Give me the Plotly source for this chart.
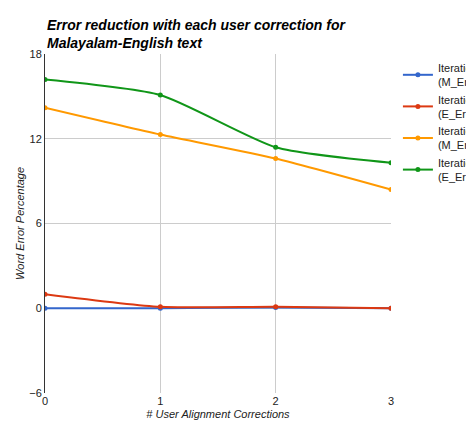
import plotly.graph_objects as go

corrections = [0, 1, 2, 3]
iter1_m = [0.0, 0.0, 0.05, 0.0]
iter1_e = [1.0, 0.1, 0.1, 0.0]
iter2_m = [14.2, 12.3, 10.6, 8.4]
iter2_e = [16.2, 15.1, 11.4, 10.3]

series = [
    ("Iteration1<br>(M_Error)", iter1_m, "#3366cc"),
    ("Iteration1<br>(E_Error)", iter1_e, "#dc3912"),
    ("Iteration2<br>(M_Error)", iter2_m, "#ff9900"),
    ("Iteration2<br>(E_Error)", iter2_e, "#109618"),
]

fig = go.Figure()
for name, vals, color in series:
    fig.add_trace(go.Scatter(x=corrections, y=vals, name=name, mode="lines+markers",
                             line=dict(color=color, width=2, shape="spline", smoothing=0.6),
                             marker=dict(size=5, color=color)))

# title as annotation so it doesn't get clipped
fig.add_annotation(text="<b><i>Error reduction with each user correction for<br>Malayalam-English text</i></b>",
                   xref="paper", yref="paper", x=0, y=1.115, xanchor="left", yanchor="top",
                   align="left", showarrow=False, font=dict(size=14, color="black"))

fig.update_layout(
    width=474, height=422,
    paper_bgcolor="white", plot_bgcolor="white",
    font=dict(family="Arial, Liberation Sans", size=11, color="#222"),
    margin=dict(l=37, r=91, t=46, b=37, autoexpand=False),
    legend=dict(x=1.02, y=1.0, yanchor="top", font=dict(size=11, color="#222"),
                tracegroupgap=4),
    xaxis=dict(range=[0, 3], tickvals=[0, 1, 2, 3], showgrid=True, gridcolor="#cccccc",
               zeroline=False, showline=False, ticks="", automargin=False,
               title=dict(text="<i># User Alignment Corrections</i>", standoff=4, font=dict(size=11))),
    yaxis=dict(range=[-6, 18], tickvals=[-6, 0, 6, 12, 18], showgrid=True, gridcolor="#cccccc",
               zeroline=False, showline=True, linecolor="#333", ticks="", automargin=False,
               title=dict(text="<i>Word Error Percentage</i>", standoff=2, font=dict(size=11))),
)

fig.write_html("out.html")
